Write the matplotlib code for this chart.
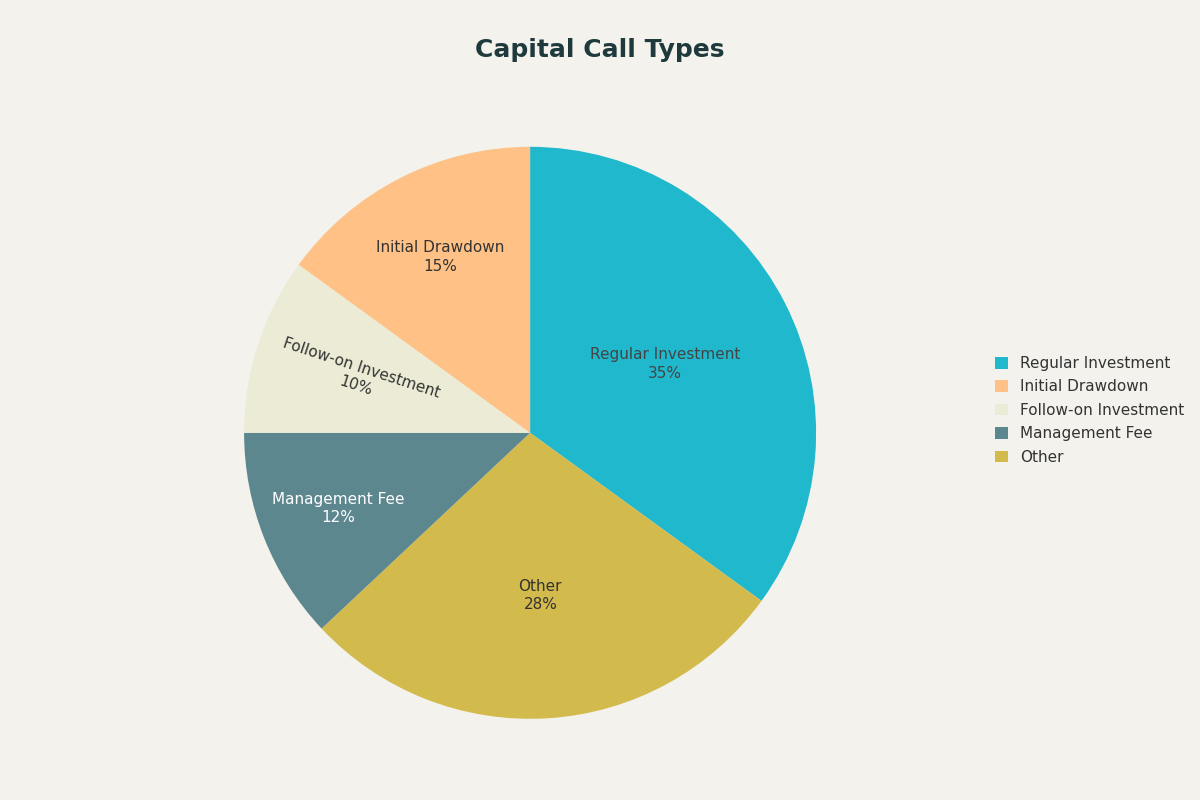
import numpy as np
import matplotlib.pyplot as plt
from matplotlib.patches import Patch

# Data (legend order)
labels = ["Regular Investment", "Initial Drawdown", "Follow-on Investment", "Management Fee", "Other"]
values = [35, 15, 10, 12, 28]
colors = ["#1FB8CD", "#FFC185", "#ECEBD5", "#5D878F", "#D2BA4C"]

# drawing order clockwise from top
draw_order = [0, 4, 3, 2, 1]
text_colors = {0: "#444444", 1: "#333333", 2: "#333333", 3: "white", 4: "#333333"}
label_r = {0: 0.53, 1: 0.69, 2: 0.63, 3: 0.72, 4: 0.57}

bg = "#F3F2EC"
fig = plt.figure(figsize=(12, 8), dpi=100, facecolor=bg)
ax = fig.add_axes([0.4417 - 0.2383, 0.459 - 0.3575, 0.4767, 0.715])
ax.set_facecolor(bg)

vals = [values[i] for i in draw_order]
cols = [colors[i] for i in draw_order]
wedges, _ = ax.pie(vals, colors=cols, startangle=90, counterclock=False,
                   wedgeprops=dict(linewidth=0))
ax.set_xlim(-1, 1)
ax.set_ylim(-1, 1)

for w, i in zip(wedges, draw_order):
    mid = np.deg2rad((w.theta1 + w.theta2) / 2)
    r = label_r[i]
    x, y = r * np.cos(mid), r * np.sin(mid)
    rot = 0
    if i == 2:
        rot = np.rad2deg(mid) - 180
    ax.text(x, y, f"{labels[i]}\n{values[i]}%", ha="center", va="center",
            fontsize=11, color=text_colors[i], rotation=rot, linespacing=1.3)

fig.text(0.5, 0.938, "Capital Call Types", ha="center", va="center",
         fontsize=18, fontweight="bold", color="#1F3A3D")

handles = [Patch(facecolor=c, edgecolor="none") for c in colors]
fig.legend(handles, labels, loc="center left", bbox_to_anchor=(0.818, 0.487),
           frameon=False, fontsize=11, handlelength=0.8, handleheight=0.8,
           labelspacing=0.55, labelcolor="#333333")

fig.savefig("out.png", facecolor=bg)
